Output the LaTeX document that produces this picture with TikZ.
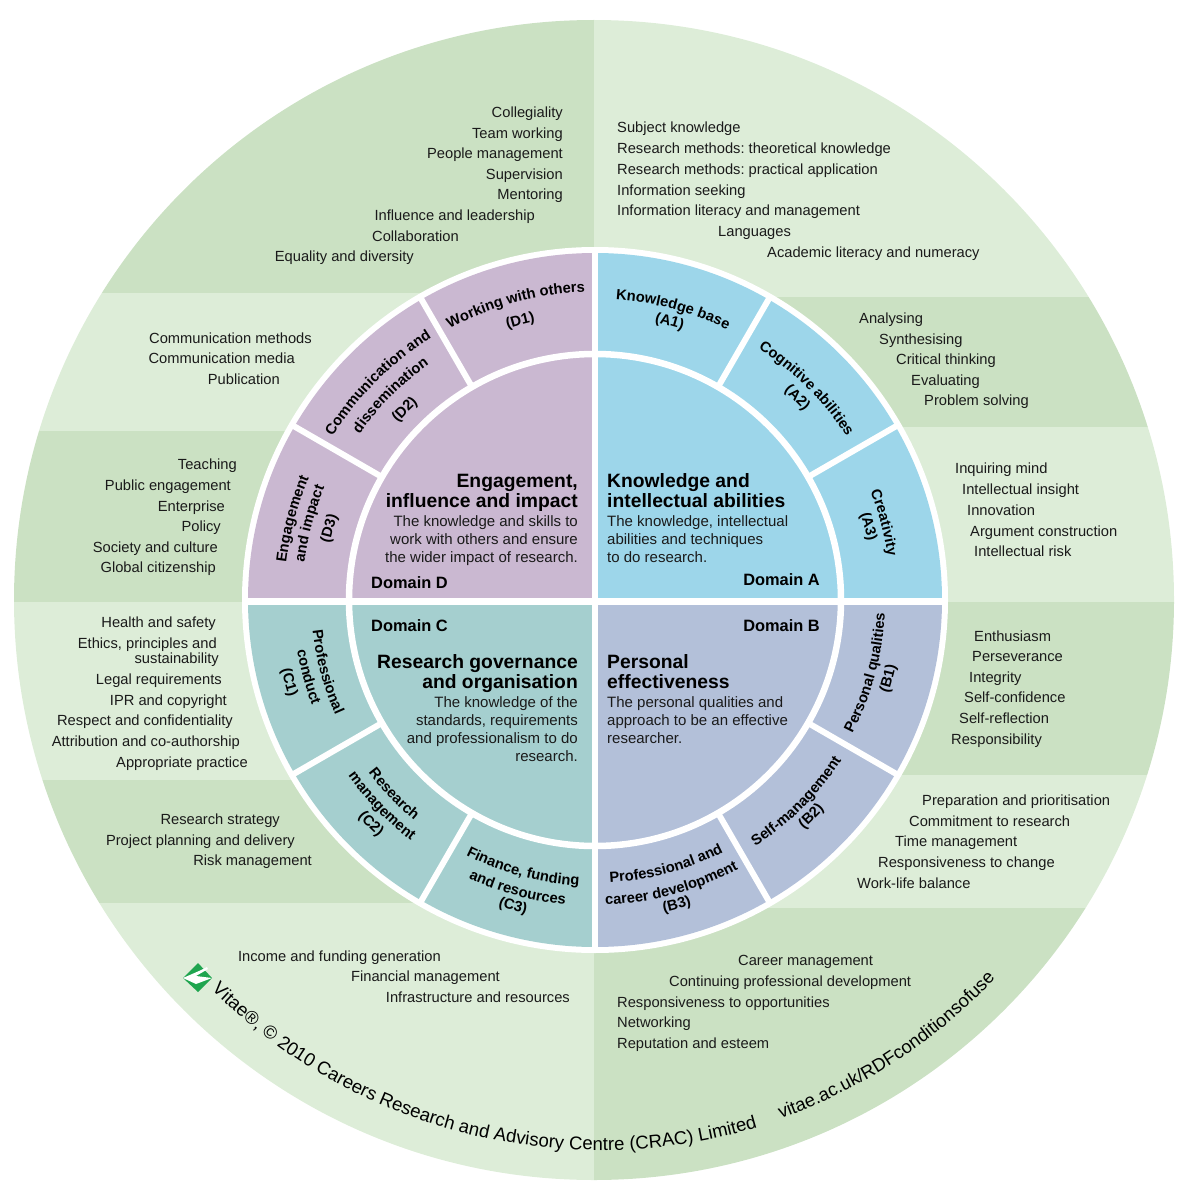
\documentclass[tikz,border=0pt]{standalone}
\usepackage{fontspec}
\setmainfont{Liberation Sans}
\usetikzlibrary{decorations.text}
\definecolor{bgL}{HTML}{DDEDD8}
\definecolor{bgD}{HTML}{CBE1C3}
\definecolor{domA}{HTML}{9DD6EA}
\definecolor{domB}{HTML}{B3C0D9}
\definecolor{domC}{HTML}{A5CFCF}
\definecolor{domD}{HTML}{CAB8D1}
\definecolor{vgreen}{HTML}{1FA54F}
\definecolor{ink}{HTML}{1A1A1A}
\newcounter{lab}
\frenchspacing
\newcommand{\fsz}[1]{\fontsize{#1}{#1}\selectfont}
\tikzset{
  item/.style={inner sep=0pt,text=ink,font=\fsz{14.7}},
  titletxt/.style={inner sep=0pt,text=black,font=\fsz{19.3}\bfseries},
  bodytxt/.style={inner sep=0pt,text=ink,font=\fsz{15}},
  domtxt/.style={inner sep=0pt,text=black,font=\fsz{16.4}\bfseries},
  divider/.style={draw=white,line width=6pt},
  ringline/.style={draw=white,line width=6.5pt}
}
% left / right anchored text: style, x, y(baseline), text
\newcommand{\LT}[4]{\stepcounter{lab}\node[#1,anchor=base west] (t\thelab) at (#2,#3) {#4};}
\newcommand{\RT}[4]{\stepcounter{lab}\node[#1,anchor=base east] (t\thelab) at (#2,#3) {#4};}
\newcommand{\IL}[3]{\LT{item}{#1}{\numexpr#2+5\relax}{#3}}
\newcommand{\IR}[3]{\RT{item}{#1}{\numexpr#2+5\relax}{#3}}
% curved ring labels; the y axis points down, so angles run clockwise on the page
\newcommand{\UpArc}[3]{\path[decorate,decoration={text along path,text align=center,
   text={|\fsz{14.7}\bfseries|#3}}] ([shift={(-#1-40:#2)}]cen) arc[start angle=-#1-40,end angle=-#1+40,radius=#2];}
\newcommand{\DnArc}[3]{\path[decorate,decoration={text along path,text align=center,
   text={|\fsz{14.7}\bfseries|#3}}] ([shift={(#1+40:#2)}]cen) arc[start angle=#1+40,end angle=#1-40,radius=#2];}
\begin{document}
\begin{tikzpicture}[x=1pt,y=-1pt]
\useasboundingbox (0,0) rectangle (1200,1196);
\coordinate (cen) at (595,600);
\coordinate (rim) at (600.4,598.2);
% outer disc with bands
\begin{scope}
  \clip (594,600) circle[radius=580];
  \fill[bgL] (594,0) rectangle (1200,297);
  \fill[bgD] (594,297) rectangle (1200,427);
  \fill[bgL] (594,427) rectangle (1200,602);
  \fill[bgD] (594,602) rectangle (1200,775);
  \fill[bgL] (594,775) rectangle (1200,908);
  \fill[bgD] (594,908) rectangle (1200,1196);
  \fill[bgD] (0,0) rectangle (594,293);
  \fill[bgL] (0,293) rectangle (594,431);
  \fill[bgD] (0,431) rectangle (594,602);
  \fill[bgL] (0,602) rectangle (594,780);
  \fill[bgD] (0,780) rectangle (594,903);
  \fill[bgL] (0,903) rectangle (594,1196);
\end{scope}
% white backing and coloured quadrants
\fill[white] (cen) circle[radius=353];
\fill[domA] (cen) -- ++(347,0) arc[start angle=0,end angle=-90,radius=347] -- cycle;
\fill[domB] (cen) -- ++(347,0) arc[start angle=0,end angle=90,radius=347] -- cycle;
\fill[domC] (cen) -- ++(-347,0) arc[start angle=180,end angle=90,radius=347] -- cycle;
\fill[domD] (cen) -- ++(-347,0) arc[start angle=180,end angle=270,radius=347] -- cycle;
% white separators
\draw[ringline] (cen) circle[radius=246];
\foreach \a in {30,60,120,150,210,240,300,330}
  \draw[divider] ([shift={(\a:246)}]cen) -- ([shift={(\a:350)}]cen);
\fill[white] (592,250) rectangle (598,950);
\fill[white] (245,598) rectangle (946,605);
% ring labels
\UpArc{75}{301}{Knowledge base}
\UpArc{75}{284}{(A1)}
\UpArc{45}{300}{Cognitive abilities}
\UpArc{45}{282}{(A2)}
\UpArc{15}{296}{Creativity}
\UpArc{15}{279}{(A3)}
\DnArc{15}{290}{Personal qualities}
\DnArc{15}{308}{(B1)}
\DnArc{45}{294}{Self-management}
\DnArc{45}{310}{(B2)}
\DnArc{75}{283}{Professional and}
\DnArc{75}{305}{career development}
\DnArc{75}{320}{(B3)}
\DnArc{165}{284}{Professional}
\DnArc{165}{302}{conduct}
\DnArc{165}{321}{(C1)}
\DnArc{136}{285}{Research}
\DnArc{136}{303}{management}
\DnArc{135}{321}{(C2)}
\DnArc{105}{286}{Finance{,} funding}
\DnArc{105}{306}{and resources}
\DnArc{105}{321}{(C3)}
\UpArc{105}{308}{Working with others}
\UpArc{105}{285}{(D1)}
\UpArc{135}{309}{Communication and}
\UpArc{135}{288}{dissemination}
\UpArc{135}{265}{(D2)}
\UpArc{165}{311}{Engagement}
\UpArc{165}{293}{and impact}
\UpArc{165}{271}{(D3)}
% domain A
\LT{titletxt}{607}{487}{Knowledge and}
\LT{titletxt}{607}{507}{intellectual abilities}
\LT{bodytxt}{607}{526}{The knowledge, intellectual}
\LT{bodytxt}{607}{544}{abilities and techniques}
\LT{bodytxt}{607}{562}{to do research.}
\RT{domtxt}{820}{585}{Domain A}
% domain B
\RT{domtxt}{820}{631}{Domain B}
\LT{titletxt}{607}{668}{Personal}
\LT{titletxt}{607}{688}{effectiveness}
\LT{bodytxt}{607}{707}{The personal qualities and}
\LT{bodytxt}{607}{725}{approach to be an effective}
\LT{bodytxt}{607}{743}{researcher.}
% domain C
\LT{domtxt}{371}{631}{Domain C}
\RT{titletxt}{578}{668}{Research governance}
\RT{titletxt}{578}{688}{and organisation}
\RT{bodytxt}{578}{707}{The knowledge of the}
\RT{bodytxt}{578}{725}{standards, requirements}
\RT{bodytxt}{578}{743}{and professionalism to do}
\RT{bodytxt}{578}{761}{research.}
% domain D
\RT{titletxt}{578}{487}{Engagement,}
\RT{titletxt}{578}{507}{influence and impact}
\RT{bodytxt}{578}{526}{The knowledge and skills to}
\RT{bodytxt}{578}{544}{work with others and ensure}
\RT{bodytxt}{578}{562}{the wider impact of research.}
\LT{domtxt}{371}{588}{Domain D}
% A1
\IL{617}{128}{Subject knowledge}
\IL{617}{149}{Research methods: theoretical knowledge}
\IL{617}{170}{Research methods: practical application}
\IL{617}{190}{Information seeking}
\IL{617}{210}{Information literacy and management}
\IL{718}{231}{Languages}
\IL{767}{252}{Academic literacy and numeracy}
% A2
\IL{859}{318}{Analysing}
\IL{879}{339}{Synthesising}
\IL{896}{359}{Critical thinking}
\IL{911}{380}{Evaluating}
\IL{924}{400}{Problem solving}
% A3
\IL{955}{468}{Inquiring mind}
\IL{962}{489}{Intellectual insight}
\IL{967}{510}{Innovation}
\IL{970}{531}{Argument construction}
\IL{974}{551}{Intellectual risk}
% B1
\IL{974}{636}{Enthusiasm}
\IL{972}{656}{Perseverance}
\IL{969}{677}{Integrity}
\IL{964}{697}{Self-confidence}
\IL{959}{718}{Self-reflection}
\IL{951}{739}{Responsibility}
% B2
\IL{922}{800}{Preparation and prioritisation}
\IL{909}{821}{Commitment to research}
\IL{895}{841}{Time management}
\IL{878}{862}{Responsiveness to change}
\IL{857}{883}{Work-life balance}
% B3
\IL{738}{960}{Career management}
\IL{669}{981}{Continuing professional development}
\IL{617}{1002}{Responsiveness to opportunities}
\IL{617}{1022}{Networking}
\IL{617}{1043}{Reputation and esteem}
% C3
\IR{441}{956}{Income and funding generation}
\IR{500}{976}{Financial management}
\IR{570}{997}{Infrastructure and resources}
% C2
\IR{280}{819}{Research strategy}
\IR{295}{840}{Project planning and delivery}
\IR{312}{860}{Risk management}
% C1
\IR{216}{622}{Health and safety}
\IR{217}{643}{Ethics, principles and}
\IR{219}{658}{sustainability}
\IR{222}{679}{Legal requirements}
\IR{227}{700}{IPR and copyright}
\IR{233}{720}{Respect and confidentiality}
\IR{240}{741}{Attribution and co-authorship}
\IR{248}{762}{Appropriate practice}
% D3
\IR{237}{464}{Teaching}
\IR{231}{485}{Public engagement}
\IR{225}{506}{Enterprise}
\IR{221}{526}{Policy}
\IR{218}{547}{Society and culture}
\IR{216}{567}{Global citizenship}
% D2
\IR{312}{338}{Communication methods}
\IR{295}{358}{Communication media}
\IR{280}{379}{Publication}
% D1
\IR{563}{113}{Collegiality}
\IR{563}{134}{Team working}
\IR{563}{154}{People management}
\IR{563}{174}{Supervision}
\IR{563}{195}{Mentoring}
\IR{535}{215}{Influence and leadership}
\IR{459}{236}{Collaboration}
\IR{414}{256}{Equality and diversity}
% copyright along the rim
\path[decorate,decoration={text along path,text align=left,
  text={|\fsz{18.55}\color{black}|Vitae®{,} © 2010 Careers Research and Advisory Centre (CRAC) Limited}}]
  ([shift={(134.8:552)}]rim) arc[start angle=134.8,end angle=60,radius=552];
\path[decorate,decoration={text along path,text align=left,
  text={|\fsz{18.4}\color{black}|vitae.ac.uk/RDFconditionsofuse}}]
  ([shift={(70.3:551)}]cen) arc[start angle=70.3,end angle=30,radius=551];
% logo
\fill[vgreen] (183,978) -- (198,963) -- (212,978) -- (198,992) -- cycle;
\fill[white] (183,978) -- (199,971) -- (207,967) -- (208,969) -- (196,976) -- (212,978) -- (196,984) -- cycle;
\end{tikzpicture}
\end{document}
